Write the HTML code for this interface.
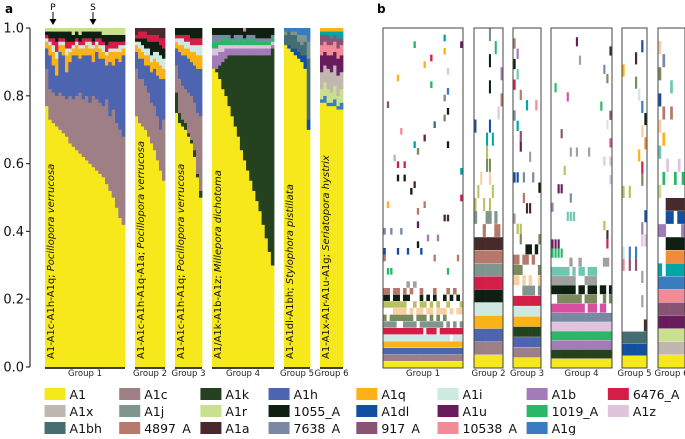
<!DOCTYPE html>
<html><head><meta charset="utf-8">
<style>
html,body{margin:0;padding:0;background:#fff;}
body{width:685px;height:435px;overflow:hidden;font-family:"DejaVu Sans","Liberation Sans",sans-serif;}
svg text{font-family:"DejaVu Sans","Liberation Sans",sans-serif;}
</style></head>
<body>
<svg id="fig" width="685" height="435" viewBox="0 0 685 435" xmlns="http://www.w3.org/2000/svg">
<g id="panelA"></g>
<g id="panelB"></g>
<g id="legend"></g>
</svg>
<script>
const NS="http://www.w3.org/2000/svg";
const COL={"A1":"#f6e81a","A1c":"#9e7f86","A1k":"#24421f","A1h":"#4d64b1","A1q":"#fbb217","A1i":"#cfe8e2","A1b":"#a37bb8","6476_A":"#d31f48",
"A1x":"#c0b8b0","A1j":"#7f9690","A1r":"#c9e08e","1055_A":"#0f1f12","A1dl":"#124fa0","A1u":"#681c5c","1019_A":"#2ab767","A1z":"#e0c4de",
"A1bh":"#446e72","4897_A":"#b6786a","A1a":"#492a2c","7638_A":"#7a89a3","917_A":"#895474","10538_A":"#f28a98","A1g":"#3a7cc2",
"olive":"#7b8a5c","peach":"#f9cfa0","ygreen":"#b8c060","teal":"#00a6a6","orange":"#f08c3c","magenta":"#d84ea0","mint":"#6cc8b0","gray":"#a0a0a0"};
const legendNames=["A1","A1c","A1k","A1h","A1q","A1i","A1b","6476_A","A1x","A1j","A1r","1055_A","A1dl","A1u","1019_A","A1z","A1bh","4897_A","A1a","7638_A","917_A","10538_A","A1g"];

// ---------- Panel a data ----------
const groupNames=["Group 1","Group 2","Group 3","Group 4","Group 5","Group 6"];
const groupProfiles=["A1-A1c-A1h-A1q; ","A1-A1c-A1h-A1q-A1a; ","A1-A1c-A1h-A1q; ","A1/A1k-A1b-A1z; ","A1-A1dl-A1bh; ","A1-A1x-A1r-A1u-A1g; "];
const groupHosts=["Pocillopora verrucosa","Pocillopora verrucosa","Pocillopora verrucosa","Millepora dichotoma","Stylophora pistillata","Seriatopora hystrix"];
const g1Layers=["A1","A1c","A1h","A1q","A1i","6476_A","1055_A","A1r"];
const g1Vals=[
[0.77,0.73,0.72,0.71,0.70,0.69,0.68,0.66,0.65,0.64,0.63,0.62,0.61,0.60,0.59,0.58,0.57,0.56,0.54,0.52,0.50,0.47,0.44,0.42],
[0.11,0.09,0.09,0.09,0.11,0.11,0.11,0.14,0.14,0.16,0.18,0.17,0.19,0.18,0.21,0.21,0.21,0.21,0.25,0.22,0.26,0.25,0.26,0.26],
[0.06,0.10,0.08,0.06,0.12,0.12,0.08,0.10,0.13,0.12,0.10,0.13,0.12,0.14,0.10,0.14,0.13,0.14,0.10,0.16,0.13,0.19,0.20,0.24],
[0.02,0.03,0.04,0.05,0.02,0.03,0.05,0.03,0.02,0.03,0.03,0.02,0.03,0.02,0.04,0.02,0.03,0.02,0.03,0.03,0.04,0.02,0.03,0.02],
[0.01,0.01,0.02,0.02,0.01,0.01,0.02,0.01,0.01,0.01,0.01,0.01,0.01,0.02,0.01,0.01,0.01,0.02,0.01,0.01,0.01,0.01,0.02,0.01],
[0.01,0.01,0.02,0.03,0.01,0.01,0.02,0.02,0.01,0.01,0.01,0.02,0.01,0.01,0.01,0.01,0.02,0.01,0.02,0.02,0.02,0.02,0.01,0.01],
[0.01,0.02,0.02,0.03,0.02,0.02,0.03,0.03,0.02,0.02,0.02,0.02,0.02,0.02,0.03,0.02,0.02,0.02,0.03,0.02,0.02,0.02,0.02,0.02],
[0.01,0.01,0.01,0.01,0.01,0.01,0.01,0.01,0.02,0.01,0.02,0.01,0.01,0.01,0.01,0.01,0.01,0.02,0.02,0.02,0.02,0.02,0.02,0.02]];
const g2Layers=["A1","A1c","A1h","A1q","A1i","1055_A","6476_A","A1a"];
const g2Vals=[
[0.74,0.72,0.71,0.70,0.68,0.66,0.64,0.61,0.58,0.55],
[0.14,0.13,0.14,0.13,0.13,0.12,0.13,0.13,0.12,0.18],
[0.05,0.06,0.06,0.06,0.08,0.09,0.11,0.12,0.15,0.12],
[0.02,0.03,0.02,0.03,0.03,0.03,0.03,0.04,0.04,0.03],
[0.01,0.02,0.02,0.02,0.02,0.02,0.02,0.03,0.03,0.03],
[0.01,0.01,0.02,0.03,0.02,0.04,0.03,0.03,0.03,0.03],
[0.01,0.02,0.02,0.02,0.02,0.02,0.02,0.02,0.02,0.03],
[0.02,0.01,0.01,0.01,0.02,0.02,0.02,0.02,0.03,0.03]];
const g3Layers=["A1","A1k","A1c","A1h","A1q","A1i","6476_A","1055_A"];
const g3Vals=[
[0.75,0.72,0.71,0.70,0.68,0.66,0.62,0.56,0.50],
[0.06,0.03,0.02,0.02,0.01,0.01,0.02,0.01,0.02],
[0.08,0.10,0.10,0.10,0.12,0.13,0.14,0.18,0.22],
[0.05,0.08,0.09,0.10,0.10,0.10,0.11,0.13,0.14],
[0.02,0.02,0.03,0.02,0.03,0.03,0.04,0.04,0.04],
[0.01,0.02,0.02,0.02,0.02,0.02,0.02,0.03,0.03],
[0.01,0.01,0.01,0.02,0.02,0.02,0.02,0.02,0.02],
[0.02,0.02,0.02,0.02,0.02,0.03,0.03,0.03,0.03]];
const g4Layers=["A1","A1k","A1b","A1z","1019_A","7638_A","1055_A"];
const g4Vals=[
[0.88,0.87,0.85,0.82,0.80,0.77,0.74,0.71,0.68,0.64,0.61,0.58,0.55,0.52,0.49,0.46,0.42,0.38,0.34,0.30],
[0.00,0.01,0.04,0.08,0.11,0.15,0.18,0.21,0.24,0.28,0.31,0.34,0.37,0.40,0.43,0.46,0.50,0.54,0.58,0.64],
[0.04,0.04,0.04,0.03,0.03,0.02,0.02,0.02,0.02,0.02,0.02,0.02,0.02,0.02,0.02,0.02,0.02,0.02,0.02,0.01],
[0.02,0.02,0.02,0.02,0.01,0.01,0.01,0.01,0.01,0.01,0.01,0.01,0.01,0.01,0.01,0.01,0.01,0.01,0.01,0.01],
[0.02,0.02,0.01,0.02,0.02,0.02,0.01,0.02,0.01,0.02,0.01,0.02,0.01,0.02,0.01,0.01,0.01,0.01,0.01,0.01],
[0.02,0.02,0.02,0.01,0.01,0.01,0.01,0.01,0.02,0.01,0.01,0.01,0.02,0.01,0.01,0.01,0.01,0.01,0.01,0.01],
[0.02,0.02,0.02,0.02,0.02,0.02,0.03,0.02,0.02,0.02,0.02,0.02,0.02,0.02,0.03,0.03,0.03,0.03,0.03,0.02]];
const g5Layers=["A1","A1dl","A1bh","A1j","A1g"];
const g5Vals=[
[0.95,0.94,0.93,0.92,0.91,0.90,0.88,0.70],
[0.00,0.01,0.01,0.02,0.02,0.02,0.04,0.03],
[0.03,0.04,0.04,0.04,0.03,0.03,0.04,0.18],
[0.01,0.00,0.01,0.01,0.02,0.03,0.02,0.05],
[0.01,0.01,0.01,0.01,0.02,0.02,0.02,0.04]];
const g6Layers=["A1","A1g","A1r","A1x","A1u","10538_A","917_A","teal","A1q"];
const g6Vals=[
[0.78,0.78,0.77,0.77,0.77,0.76,0.76],
[0.01,0.02,0.01,0.01,0.02,0.01,0.02],
[0.03,0.04,0.04,0.03,0.04,0.03,0.04],
[0.05,0.05,0.06,0.06,0.06,0.06,0.05],
[0.05,0.04,0.04,0.05,0.04,0.05,0.05],
[0.03,0.03,0.03,0.03,0.03,0.03,0.03],
[0.03,0.02,0.03,0.02,0.02,0.03,0.02],
[0.01,0.01,0.01,0.02,0.01,0.02,0.02],
[0.01,0.01,0.01,0.01,0.01,0.01,0.01]];
const yTicks=[0.0,0.2,0.4,0.6,0.8,1.0];
const yTickLabels=["0.0","0.2","0.4","0.6","0.8","1.0"];

// ---------- Panel b data (rows from bottom: layer, presence per sample) ----------
const b1Rows=[["A1","111111111111111111111111"],["A1c","111111111111111111111111"],["A1h","111111111111111111111111"],["A1q","111111111111111111111111"],
["A1i","111111111111111111110111"],["6476_A","111111111111011101111111"],["A1j","111100111101111111010101"],["olive","101111111011101010100000"],
["peach","000111101011011011101011"],["ygreen","111111100101101010010001"],["1055_A","110110110001010100101010"],["4897_A","110110101001000100010100"],
["gray","000000010100000000000000"]];
const b1Marks=[[14,1,"1019_A"],[14,2,"1019_A"],[14,19,"1019_A"],[16,0,"4897_A"],[16,15,"4897_A"],[16,22,"4897_A"],[17,0,"A1dl"],[17,4,"A1dl"],[17,7,"A1dl"],[17,11,"A1dl"],
[18,10,"1055_A"],[19,13,"A1b"],[19,16,"A1b"],[20,0,"7638_A"],[20,2,"7638_A"],[20,5,"7638_A"],[21,10,"A1u"],[22,18,"A1a"],[22,19,"A1a"],[23,10,"4897_A"],
[24,1,"A1q"],[24,12,"4897_A"],[25,23,"6476_A"],[26,8,"1055_A"],[27,9,"A1a"],[28,4,"1055_A"],[28,6,"1055_A"],[29,23,"teal"],[30,4,"6476_A"],[30,6,"6476_A"],
[31,3,"A1x"],[32,10,"olive"],[33,9,"teal"],[33,19,"1055_A"],[34,12,"A1u"],[35,5,"10538_A"],[36,15,"A1bh"],[37,18,"olive"],[38,19,"1055_A"],[39,1,"917_A"],
[40,18,"7638_A"],[41,19,"A1g"],[42,14,"1019_A"],[43,4,"A1q"],[44,19,"A1z"],[45,12,"A1q"],[46,14,"6476_A"],[47,18,"A1q"],[48,23,"A1u"],[48,9,"1019_A"],[49,18,"teal"]];
const b2Rows=[["A1","1111111111"],["A1c","1111111111"],["A1h","1111111111"],["A1q","1111111111"],["A1i","1111111111"],["1055_A","1111111111"],["6476_A","1111111111"],
["A1j","1111111111"],["4897_A","1111111111"],["A1a","1111111111"],["4897_A","0001000110"],["A1j","1000110100"]];
const b2Marks=[[12,0,"ygreen"],[12,3,"ygreen"],[12,5,"ygreen"],[13,1,"ygreen"],[13,6,"ygreen"],[14,2,"peach"],[14,5,"peach"],[15,4,"olive"],[15,5,"olive"],
[16,4,"ygreen"],[17,4,"teal"],[17,6,"teal"],[18,0,"A1dl"],[18,5,"A1dl"],[19,8,"A1z"],[20,9,"4897_A"],[21,5,"1055_A"],[22,9,"A1b"],[23,5,"1055_A"],[24,7,"1019_A"],[25,5,"7638_A"]];
const b3Rows=[["A1","111111111"],["A1c","111111111"],["A1h","111111111"],["A1k","111111111"],["A1q","111111111"],["A1i","111111111"],["6476_A","111111111"],
["A1j","000111101"],["peach","110101001"],["olive","111000001"],["4897_A","110110100"],["1055_A","000011010"]];
const b3Marks=[[12,2,"olive"],[12,8,"olive"],[13,1,"ygreen"],[13,2,"ygreen"],[14,0,"gray"],[15,4,"A1a"],[15,5,"A1a"],[16,3,"4897_A"],[17,8,"1055_A"],[18,0,"A1dl"],[18,1,"A1dl"],
[18,3,"7638_A"],[18,6,"7638_A"],[20,5,"gray"],[21,2,"A1u"],[22,2,"917_A"],[23,1,"teal"],[24,0,"7638_A"],[25,4,"teal"],[25,7,"10538_A"],[26,2,"4897_A"],[27,0,"6476_A"],[28,1,"mint"],[29,0,"1055_A"],[30,1,"A1b"],[31,0,"4897_A"]];
const b4Rows=[["A1","11111111111111111111"],["A1k","11111111111111111111"],["A1b","11111111111111111111"],["1019_A","11111111111111111111"],["A1z","11111111111111111111"],
["7638_A","11111111111111111111"],["magenta","11111111111011101100"],["olive","00111111110111100101"],["1055_A","11111111011011101101"],["gray","11111111000111100000"],
["mint","11111101011011100000"],["gray","00000010010000000110"]];
const b4Marks=[[12,0,"1019_A"],[12,1,"1019_A"],[12,2,"1019_A"],[12,3,"1019_A"],[13,0,"A1u"],[13,1,"A1u"],[13,2,"A1u"],[13,18,"6476_A"],[14,18,"A1a"],[15,17,"ygreen"],
[16,5,"mint"],[16,6,"mint"],[16,7,"mint"],[17,0,"A1b"],[18,6,"7638_A"],[19,2,"A1u"],[19,3,"A1u"],[20,19,"A1z"],[21,4,"ygreen"],[22,17,"A1z"],[22,19,"A1z"],
[23,6,"gray"],[23,8,"gray"],[23,12,"gray"],[24,19,"magenta"],[25,3,"917_A"],[26,18,"A1i"],[27,19,"917_A"],[28,16,"1019_A"],[29,5,"magenta"],[30,1,"1019_A"],
[31,18,"olive"],[32,17,"7638_A"],[33,9,"gray"],[34,19,"A1a"],[35,8,"A1u"]];
const b5Rows=[["A1","11111111"],["A1dl","11111111"],["A1bh","11111111"],["A1a","00000001"]];
const b5Marks=[[5,6,"gray"],[7,6,"gray"],[8,0,"10538_A"],[8,2,"917_A"],[8,4,"917_A"],[9,0,"A1i"],[9,2,"A1g"],[9,4,"A1g"],[10,6,"A1z"],[10,7,"A1z"],[11,6,"A1b"],
[12,7,"A1dl"],[14,2,"ygreen"],[14,0,"ygreen"],[15,6,"olive"],[16,6,"6476_A"],[17,5,"A1q"],[18,7,"orange"],[19,6,"peach"],[20,7,"1055_A"],[21,6,"A1g"],[22,5,"A1i"],[23,4,"olive"],[24,0,"A1q"],[25,4,"A1a"],[26,6,"A1dl"]];
const b6Rows=[["A1","1111111"],["A1x","1111111"],["A1r","1111111"],["A1u","1111111"],["917_A","1111111"],["10538_A","1111111"],["A1g","1111111"],["teal","1011111"],
["orange","0011111"],["1055_A","0011111"],["A1b","1100001"],["A1dl","0011011"],["A1a","0011111"]];
const b6Marks=[[13,0,"A1r"],[14,1,"1019_A"],[14,4,"1019_A"],[14,6,"1019_A"],[15,2,"A1z"],[15,5,"A1z"],[16,0,"mint"],[17,1,"A1q"],[18,0,"peach"],[19,1,"4897_A"],[19,3,"4897_A"],
[20,0,"A1dl"],[21,3,"mint"],[22,0,"olive"],[23,1,"7638_A"],[24,0,"peach"]];

function el(tag,attrs,parent){const e=document.createElementNS(NS,tag);for(const k in attrs)e.setAttribute(k,attrs[k]);parent.appendChild(e);return e;}

// ---------- Panel a ----------
const A=document.getElementById("panelA");
const aTop=28,aBot=367;
function yA(v){return aBot-(aBot-aTop)*v;}
const aGroupX=[[45,125],[135,165],[175,202],[212,274],[284,310],[320,343]];
const aLayers=[g1Layers,g2Layers,g3Layers,g4Layers,g5Layers,g6Layers];
const aVals=[g1Vals,g2Vals,g3Vals,g4Vals,g5Vals,g6Vals];
let t=el("text",{x:5,y:13,"font-size":"12","font-weight":"bold"},A);t.textContent="a";


const axis=el("line",{x1:30,y1:aTop,x2:30,y2:aBot,stroke:"#333","stroke-width":1.2},A);


yTicks.forEach((v,i)=>{
  const tk=el("line",{x1:26,x2:30,y1:yA(v),y2:yA(v),stroke:"#333","stroke-width":1.2},A);
  
  
  const lb=el("text",{x:24,y:yA(v)+4.5,"font-size":"13","text-anchor":"end",fill:"#111"},A);
  lb.textContent=yTickLabels[i];
  
  
});
aVals.forEach((vals,g)=>{
  const [x0,x1]=aGroupX[g];const n=vals[0].length;const w=(x1-x0)/n;
  const gg=el("g",{},A);
  
  
  for(let i=0;i<n;i++){
    let cum=0;
    vals.forEach((s,li)=>{
      const v=s[i];if(v<=0){return;}
      const r=el("rect",{x:x0+i*w,y:yA(cum+v),width:w+0.4,height:yA(cum)-yA(cum+v)+0.2,fill:COL[aLayers[g][li]]},gg);
      
      
      cum+=v;
    });
    if(cum<1){const r=el("rect",{x:x0+i*w,y:yA(1),width:w+0.4,height:yA(cum)-yA(1),fill:(i%2?"#8fbf9a":"#e08aa0")},gg);
      
      }
  }
  const base=el("line",{x1:x0,x2:x1,y1:aBot+1,y2:aBot+1,stroke:"#000","stroke-width":1.6},A);
  
  
  const gl=el("text",{x:(x0+x1)/2,y:376,"font-size":"8.5","text-anchor":"middle",fill:"#222"},A);
  gl.textContent=groupNames[g];
  
  
  const vt=el("text",{x:0,y:0,"font-size":"10",fill:"#111",transform:`translate(${x0+9},359) rotate(-90)`},A);
  
  
  const s1=el("tspan",{},vt);s1.textContent=groupProfiles[g];
  const s2=el("tspan",{"font-style":"italic"},vt);s2.textContent=groupHosts[g];
});
[["P",53],["S",93]].forEach(([lab,x])=>{
  const tx=el("text",{x:x,y:10,"font-size":"9","text-anchor":"middle"},A);tx.textContent=lab;
  
  
  const ln=el("line",{x1:x,x2:x,y1:12,y2:20,stroke:"#000","stroke-width":1},A);
  
  
  const ph=el("path",{d:`M${x-3.5},19 L${x+3.5},19 L${x},25 Z`,fill:"#000"},A);
  
  
});

// ---------- Panel b ----------
const B=document.getElementById("panelB");
let tb=el("text",{x:377,y:13,"font-size":"12","font-weight":"bold"},B);tb.textContent="b";


const bBoxes=[[383,463,51],[474,503,26],[513,541,33],[551,612,37],[622,647,28],[658,685,26]];
const bRowsAll=[b1Rows,b2Rows,b3Rows,b4Rows,b5Rows,b6Rows];
const bMarksAll=[b1Marks,b2Marks,b3Marks,b4Marks,b5Marks,b6Marks];
const bTop=28,bBot=368;
bBoxes.forEach(([x0,x1,nr],g)=>{
  const rows=bRowsAll[g];const n=rows[0][1].length;const cw=(x1-x0)/n;const rh=(bBot-bTop)/nr;
  const gg=el("g",{},B);
  
  
  rows.forEach(([name,p],r)=>{
    for(let i=0;i<n;i++){if(p[i]!=="1")continue;
      const c=el("rect",{x:x0+i*cw,y:bBot-(r+1)*rh,width:cw+0.3,height:rh-0.3,fill:COL[name]},gg);
      
      }
  });
  bMarksAll[g].forEach(([r,i,name])=>{
    const c=el("rect",{x:x0+i*cw+cw*0.15,y:bBot-(r+1)*rh,width:cw*0.7,height:rh,fill:COL[name]},gg);
    
    
  });
  const bx=el("rect",{x:x0,y:bTop,width:x1-x0,height:bBot-bTop,fill:"none",stroke:"#444","stroke-width":1},B);
  
  
  const gl=el("text",{x:(x0+x1)/2,y:376,"font-size":"8.5","text-anchor":"middle",fill:"#222"},B);
  gl.textContent=groupNames[g];
  
  
});

// ---------- Legend ----------
const L=document.getElementById("legend");
const lx=[34,91,153,205,272,334,402,464];
const ly=[388,405,422];
legendNames.forEach((nm,k)=>{
  const col=k%8,row=Math.floor(k/8);
  const g=el("g",{},L);
  
  
  const sw=el("rect",{x:lx[col]*1.31,y:ly[row],width:21,height:12,fill:COL[nm]},g);
  
  
  const tx=el("text",{x:lx[col]*1.31+25,y:ly[row]+11,"font-size":"12.5",fill:"#111"},g);
  tx.textContent=nm;
  
  
});
</script>
</body></html>
